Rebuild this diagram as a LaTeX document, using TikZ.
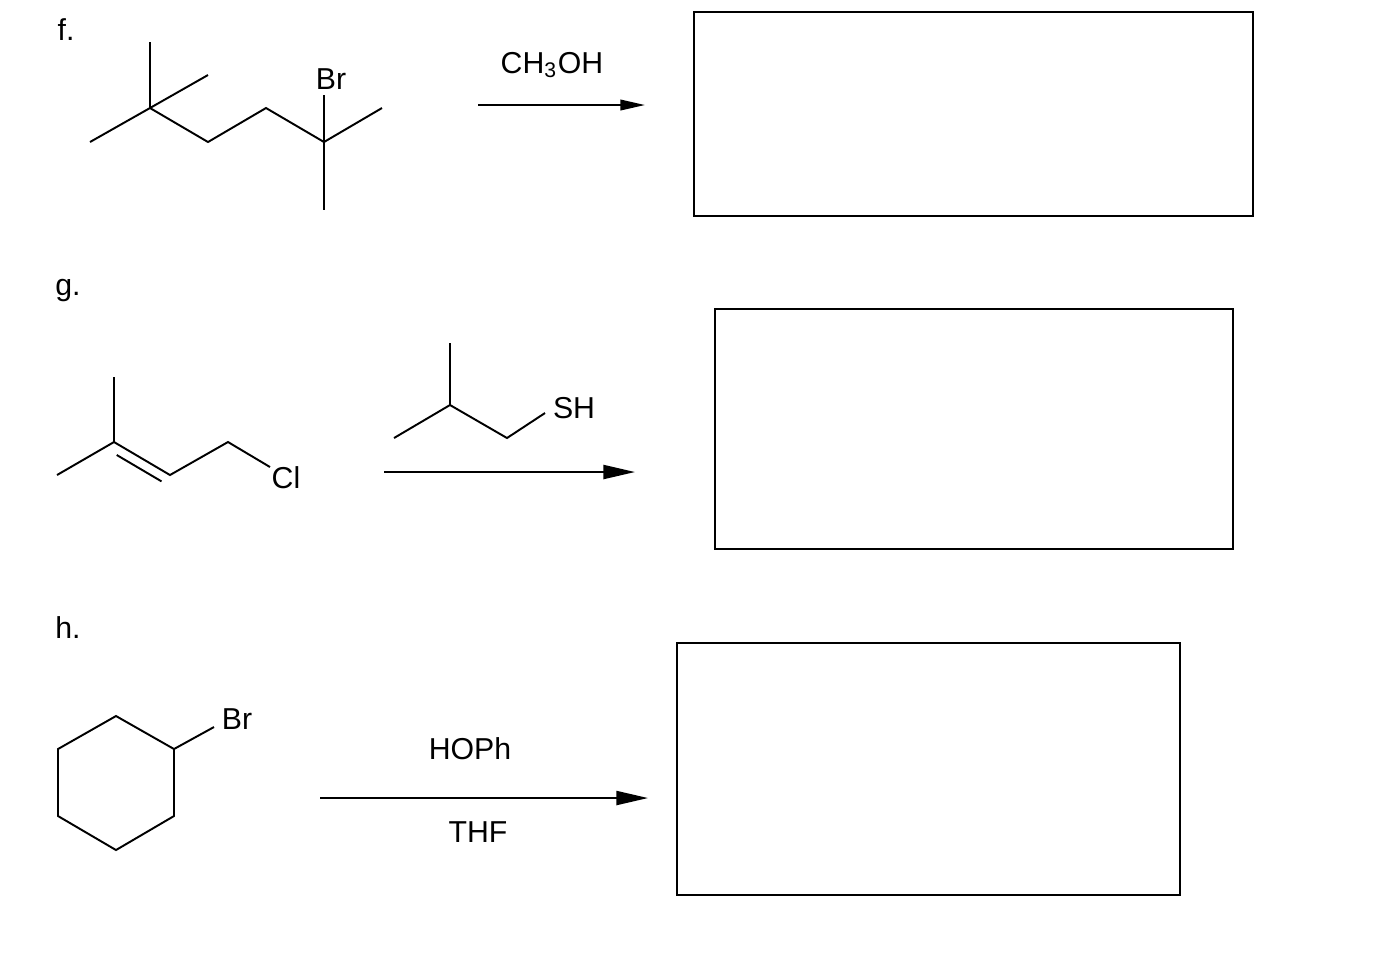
\documentclass[tikz,border=0pt]{standalone}
\usepackage{fontspec}
\setmainfont{Liberation Sans}
\usetikzlibrary{arrows.meta,calc}
\begin{document}
\begin{tikzpicture}[x=0.01cm,y=-0.01cm,line width=0.55pt,
  lbl/.style={font=\fontsize{8.6}{10}\selectfont,inner sep=0pt},
  rxn/.style={-{Triangle[length=9pt,width=4pt]}},
  boxr/.style={draw,line width=0.6pt}]
\useasboundingbox (0,0) rectangle (1386,956);
% f
\node[lbl] (lf) at (66,30) {f.};
\coordinate (a1) at (150,108); \coordinate (a2) at (208,142);
\coordinate (a3) at (266,108); \coordinate (a4) at (324,142);
\draw (90,142) -- (a1) -- (208,75);
\draw (150,42) -- (a1) -- (a2) -- (a3) -- (a4) -- (382,108);
\draw (a4) -- (324,210);
\node[lbl] (br1) at (331,79) {Br};
\coordinate (bt) at (324,95);
\draw (a4) -- (bt);
\node[lbl] (rf) at (552,65) {CH\textsubscript{3}OH};
\draw[-{Triangle[length=7pt,width=3pt]}] (478,105) -- (645,105);
\draw[boxr] (694,12) rectangle (1253,216);
% g
\node[lbl] (lg) at (68,290) {g.};
\coordinate (b1) at (114,442); \coordinate (b2) at (170,475); \coordinate (b3) at (228,442);
\draw (57,475) -- (b1) -- (114,377);
\draw (b1) -- (b2) -- (b3) -- (270,467);
\draw ($(b1)!0.12!(b2)+(-4,9)$) -- ($(b1)!0.92!(b2)+(-4,9)$);
\node[lbl] (cl) at (286,478) {Cl};
\coordinate (c1) at (450,405); \coordinate (c2) at (507,438);
\draw (394,438) -- (c1) -- (450,343);
\draw (c1) -- (c2) -- (545,413);
\node[lbl] (sh) at (574,408) {SH};
\draw[rxn] (384,472) -- (635,472);
\draw[boxr] (715,309) rectangle (1233,549);
% h
\node[lbl] (lh) at (68,628) {h.};
\draw (116,716) -- (174,749) -- (174,816) -- (116,850) -- (58,816) -- (58,749) -- cycle;
\draw (174,749) -- (214,727);
\node[lbl] (br2) at (237,719) {Br};
\node[lbl] (r1) at (470,749) {HOPh};
\node[lbl] (r2) at (478,832) {THF};
\draw[rxn] (320,798) -- (648,798);
\draw[boxr] (677,643) rectangle (1180,895);
\end{tikzpicture}
\end{document}
